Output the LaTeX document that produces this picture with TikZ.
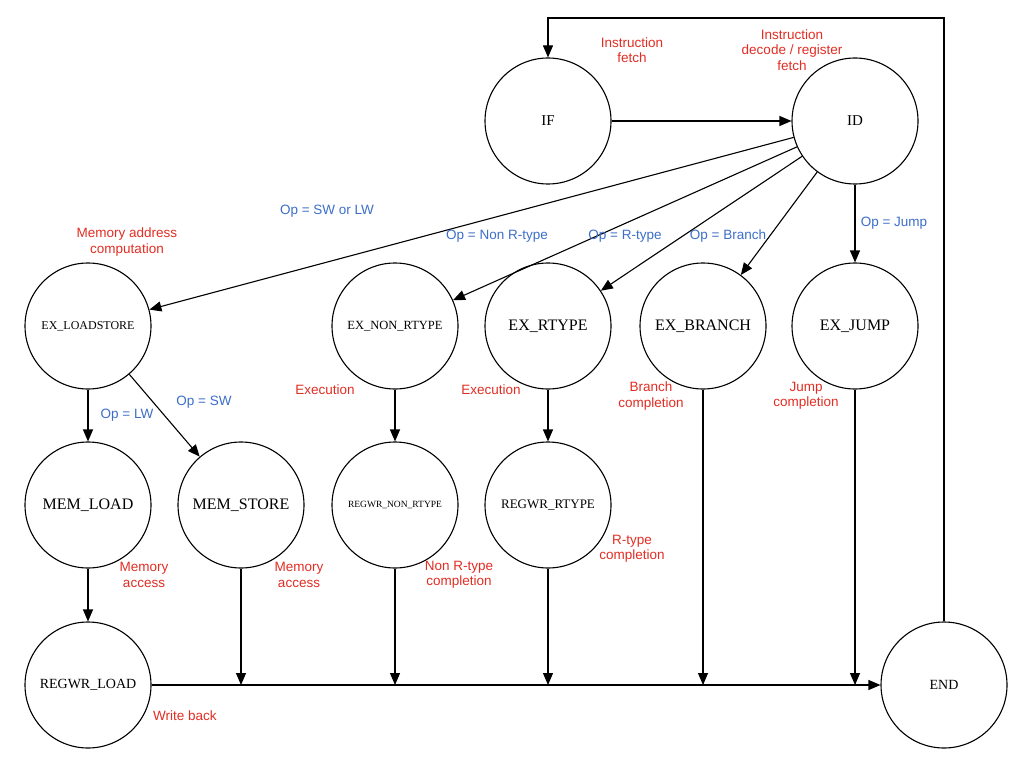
\documentclass[tikz,border=0pt]{standalone}
\usepackage{fontspec}
\setmainfont{Liberation Serif}
\newfontfamily\lab{Liberation Sans}
\usetikzlibrary{arrows.meta}
\definecolor{rd}{RGB}{225,45,35}
\definecolor{bl}{RGB}{60,110,200}
\begin{document}
\begin{tikzpicture}[x=1pt,y=-1pt,
 st/.style={draw,circle,minimum size=126pt,inner sep=0pt,line width=1.1pt},
 ar/.style={-{Triangle[length=12pt,width=10pt]},line width=1.1pt},
 rl/.style={text=rd,font=\lab\fontsize{13.5}{15.5}\selectfont,align=center},
 bll/.style={text=bl,font=\lab\fontsize{13.5}{15.5}\selectfont,align=center}]
\useasboundingbox (0,0) rectangle (1024,767);
\node[st,font=\fontsize{15}{17}\selectfont] (IF) at (548,121) {IF};
\node[st,font=\fontsize{15}{17}\selectfont] (ID) at (855,121) {ID};
\node[st,font=\fontsize{12}{14}\selectfont] (LS) at (88,326) {EX\_LOADSTORE};
\node[st,font=\fontsize{12.5}{14}\selectfont] (NR) at (395,326) {EX\_NON\_RTYPE};
\node[st,font=\fontsize{16}{18}\selectfont] (RT) at (548,326) {EX\_RTYPE};
\node[st,font=\fontsize{16}{18}\selectfont] (BR) at (703,326) {EX\_BRANCH};
\node[st,font=\fontsize{16}{18}\selectfont] (JP) at (855,326) {EX\_JUMP};
\node[st,font=\fontsize{16}{18}\selectfont] (ML) at (88,505) {MEM\_LOAD};
\node[st,font=\fontsize{16}{18}\selectfont] (MS) at (241,505) {MEM\_STORE};
\node[st,font=\fontsize{9.5}{11}\selectfont] (WN) at (395,505) {REGWR\_NON\_RTYPE};
\node[st,font=\fontsize{13}{15}\selectfont] (WR) at (548,505) {REGWR\_RTYPE};
\node[st,font=\fontsize{14}{16}\selectfont] (WL) at (88,685) {REGWR\_LOAD};
\node[st,font=\fontsize{14}{16}\selectfont] (EN) at (944,685) {END};
\coordinate (c1) at (241,685);\coordinate (c2) at (395,685);
\coordinate (c3) at (548,685);\coordinate (c4) at (703,685);
\coordinate (c5) at (855,685);
\draw[ar] (IF) -- (ID);
\draw[ar] (ID) -- (LS);
\draw[ar] (ID) -- (NR);
\draw[ar] (ID) -- (RT);
\draw[ar] (ID) -- (BR);
\draw[ar] (ID) -- (JP);
\draw[ar] (LS) -- (ML);
\draw[ar] (LS) -- (MS);
\draw[ar] (NR) -- (WN);
\draw[ar] (RT) -- (WR);
\draw[ar] (ML) -- (WL);
\draw[ar] (WL) -- (EN);
\draw[ar] (MS) -- (c1);
\draw[ar] (WN) -- (c2);
\draw[ar] (WR) -- (c3);
\draw[ar] (BR) -- (c4);
\draw[ar] (JP) -- (c5);
\draw[ar] (EN.north) -- (944,18) -- (548,18) -- (IF.north);
\node[rl] at (632,50) {Instruction\\fetch};
\node[rl] at (792,50) {Instruction\\decode / register\\fetch};
\node[rl] at (127,242) {Memory address\\computation};
\node[rl] at (325,390) {Execution};
\node[rl] at (491,390) {Execution};
\node[rl] at (651,396) {Branch\\completion};
\node[rl] at (806,396) {Jump\\completion};
\node[rl] at (144,575) {Memory\\access};
\node[rl] at (299,575) {Memory\\access};
\node[rl] at (459,575) {Non R-type\\completion};
\node[rl] at (632,549) {R-type\\completion};
\node[rl] at (185,716) {Write back};
\node[bll] at (327,211) {Op = SW or LW};
\node[bll] at (497,236) {Op = Non R-type};
\node[bll] at (625,236) {Op = R-type};
\node[bll] at (728,236) {Op = Branch};
\node[bll] at (894,223) {Op = Jump};
\node[bll] at (127,415) {Op = LW};
\node[bll] at (204,402) {Op = SW};
\end{tikzpicture}
\end{document}
